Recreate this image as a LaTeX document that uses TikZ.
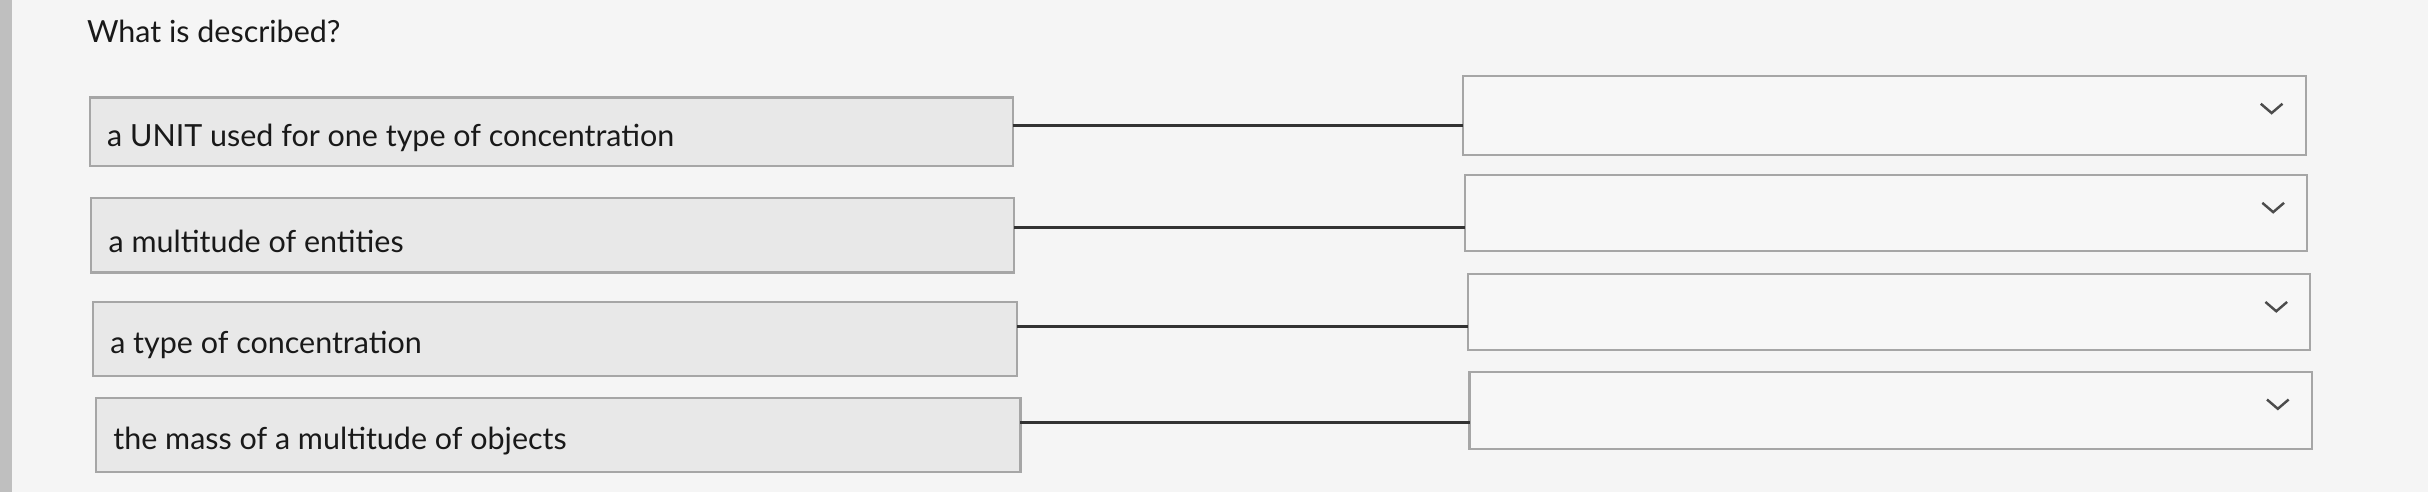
\documentclass[tikz,border=0pt]{standalone}
\usepackage{fontspec}
\setmainfont{Lato}
\begin{document}
\begin{tikzpicture}[x=0.02cm,y=-0.02cm,
  lbox/.style={draw=black!35,fill=black!9,line width=0.8pt},
  rbox/.style={draw=black!35,fill=black!3,line width=0.8pt},
  lbl/.style={anchor=west,font=\fontsize{11.2}{13}\selectfont,text=black!90},
  conn/.style={draw=black!80,line width=1.2pt}]
\fill[black!4] (0,0) rectangle (1568,318);
\fill[black!25] (0,0) rectangle (8,318);
\useasboundingbox (0,0) rectangle (1568,318);
\node[lbl] (title) at (50,20) {What is described?};
\foreach \i/\xa/\ya/\xb/\yb/\rxa/\rya/\rxb/\ryb/\ly/\t in {
 1/58/63/654/107/945/49/1489/100/81/{a UNIT used for one type of concentration},
 2/59/128/655/176/946/113/1490/162/147/{a multitude of entities},
 3/60/195/657/243/948/177/1492/226/211/{a type of concentration},
 4/62/257/659/305/949/240/1493/290/273/{the mass of a multitude of objects}}{
  \draw[lbox] (\xa,\ya) rectangle (\xb,\yb);
  \node[lbl] (t\i) at (\xa+5,{(\ya+\yb)/2+4}) {\t};
  \draw[rbox] (\rxa,\rya) rectangle (\rxb,\ryb);
  \coordinate (a\i) at (\xb,\ly);
  \coordinate (b\i) at (\rxa,\ly);
  \draw[conn] (a\i) -- (b\i);
  \draw[black!70,line width=0.9pt] (\rxb-29,\rya+18) -- (\rxb-22,\rya+24) -- (\rxb-15,\rya+18);
}
\end{tikzpicture}
\end{document}
